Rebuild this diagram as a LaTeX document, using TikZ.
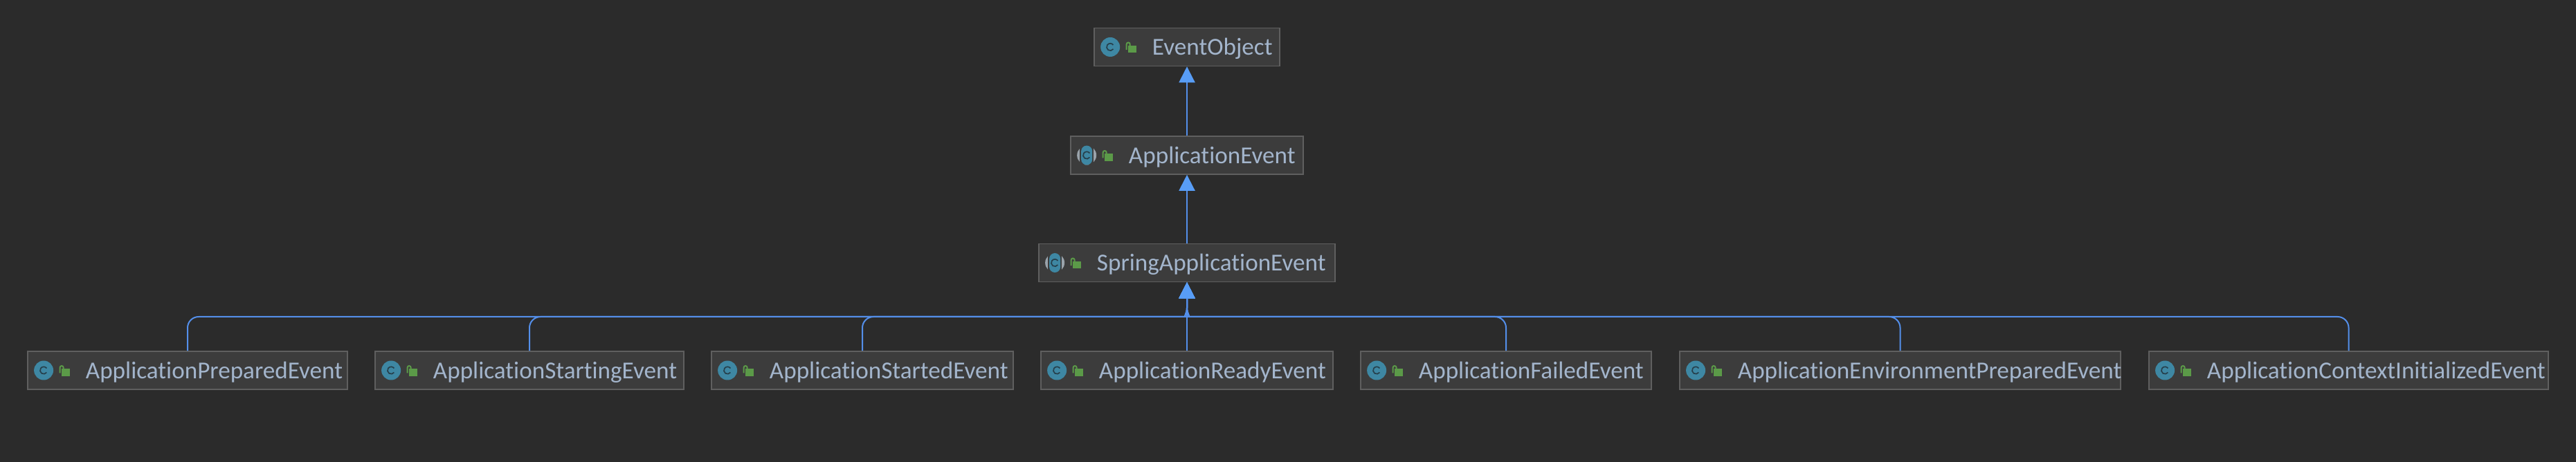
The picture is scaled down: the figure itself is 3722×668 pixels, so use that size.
\documentclass[tikz,border=0pt]{standalone}
\usepackage{fontspec}
\setmainfont{Carlito}[Ligatures=NoCommon]
\usepackage{tikz}
\usetikzlibrary{arrows.meta}

\definecolor{canvasgrey}{HTML}{2B2B2B}
\definecolor{boxgrey}{HTML}{3C3C3C}
\definecolor{boxline}{HTML}{5F5F5F}
\definecolor{labelblue}{HTML}{A3B5CC}
\definecolor{linkblue}{HTML}{548FEA}
\definecolor{tipblue}{HTML}{589DF6}
\definecolor{iconteal}{HTML}{3E87A3}
\definecolor{icondark}{HTML}{26404C}
\definecolor{icongrey}{HTML}{9AA3AB}
\definecolor{lockgreen}{HTML}{5B9A48}

\tikzset{
  classbox/.style={draw=boxline, fill=boxgrey, line width=.015cm, text=labelblue,
    text width=#1, inner xsep=0pt, inner ysep=0pt, minimum height=.55cm, align=left,
    text height=.34cm, text depth=.10cm, font=\fontsize{10pt}{12pt}\selectfont,
    execute at begin node={\hspace*{.84cm}\hyphenchar\font=-1}},
  extends/.style={draw=linkblue, line width=.02cm,
    -{Triangle[width=.23cm,length=.23cm,color=tipblue]}},
  pics/lockmark/.style={code={
    \fill[lockgreen] (50,-2) rectangle (62,8.5);
    \draw[lockgreen, line width=.02cm] (47.5,4) -- (47.5,-4) arc[start angle=180,end angle=360,radius=2.5] -- (52.5,-2);
  }},
  pics/classmark/.style={code={
    \fill[iconteal] (24,0) circle (14);
    \draw[icondark, line width=.017cm] (24,0) ++(35:5.2) arc[start angle=35,end angle=325,radius=5.2];
    \pic {lockmark};
  }},
  pics/abstractmark/.style={code={
    \fill[icongrey] (24,0) circle (14);
    \fill[boxgrey] (14,-14) rectangle (34,14);
    \fill[iconteal, rounded corners=.08cm] (16,-14) rectangle (32,14);
    \draw[icondark, line width=.017cm] (24,0) ++(35:5.2) arc[start angle=35,end angle=325,radius=5.2];
    \pic {lockmark};
  }},
}

\begin{document}
\begin{tikzpicture}[x=.01cm, y=-.01cm]
\fill[canvasgrey] (0,0) rectangle (3722,668);
\useasboundingbox (0,0) rectangle (3722,668);

\node[classbox=2.68cm] (object) at (1715,68) {EventObject};
\node[classbox=3.36cm] (appevent) at (1715,224.5) {ApplicationEvent};
\node[classbox=4.28cm] (spring) at (1715,380) {SpringApplicationEvent};

\node[classbox=4.62cm] (prepared) at (271,535.5) {ApplicationPreparedEvent};
\node[classbox=4.46cm] (starting) at (765,535.5) {ApplicationStartingEvent};
\node[classbox=4.36cm] (started) at (1246,535.5) {ApplicationStartedEvent};
\node[classbox=4.22cm] (ready) at (1715,535.5) {ApplicationReadyEvent};
\node[classbox=4.20cm] (failed) at (2176,535.5) {ApplicationFailedEvent};
\node[classbox=6.37cm] (environment) at (2745.5,535.5) {ApplicationEnvironmentPreparedEvent};
\node[classbox=5.77cm] (context) at (3393.5,535.5) {ApplicationContextInitializedEvent};

\coordinate (busl) at (1697,458);
\coordinate (busr) at (1733,458);
\coordinate (busm) at (1715,445);

\foreach \u in {object,prepared,starting,started,ready,failed,environment,context} \pic at (\u.west) {classmark};
\foreach \u in {appevent,spring} \pic at (\u.west) {abstractmark};

\foreach \u/\v in {appevent/object,spring/appevent,ready/spring} \draw[extends] (\u) -- (\v);
\foreach \u in {prepared,starting,started}
  \draw[extends] (\u.north) [rounded corners=.16cm] |- (busl) [sharp corners] .. controls +(13,0) and +(0,9) .. (busm) -- (spring.south);
\foreach \u in {failed,environment,context}
  \draw[extends] (\u.north) [rounded corners=.16cm] |- (busr) [sharp corners] .. controls +(-13,0) and +(0,9) .. (busm) -- (spring.south);

\end{tikzpicture}
\end{document}
